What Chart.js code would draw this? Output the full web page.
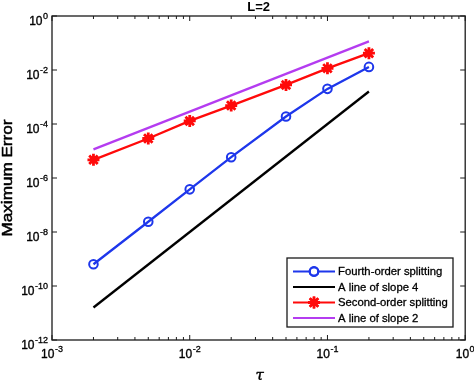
<!DOCTYPE html>
<html>
<head>
<meta charset="utf-8">
<script src="https://cdn.jsdelivr.net/npm/chart.js@4/dist/chart.umd.min.js"></script>
<style>
  html, body { margin: 0; padding: 0; background: #fff; }
  #wrap { width: 474px; height: 382px; }
</style>
</head>
<body>
<div id="wrap"><canvas id="c" width="474" height="382"></canvas></div>
<script>
// ---- data ----
const tau = [0.002, 0.005, 0.01, 0.02, 0.05, 0.1, 0.2];
const errFourth = [6.4e-10, 2.4e-8, 3.8e-7, 5.9e-6, 1.9e-4, 2.0e-3, 1.3e-2];
const errSecond = [4.7e-6, 2.9e-5, 1.3e-4, 4.8e-4, 2.8e-3, 1.15e-2, 4.2e-2];
const refTau = [0.002, 0.2];
const slope4 = [1.6e-11, 1.6e-3];
const slope2 = [1.15e-5, 0.115];
const seriesLabels = ['Fourth-order splitting', 'A line of slope 4', 'Second-order splitting', 'A line of slope 2'];
const xTickExps = [-3, -2, -1, 0];
const yTickExps = [0, -2, -4, -6, -8, -10, -12];
const titleText = 'L=2';
const xLabelText = 'τ';
const yLabelText = 'Maximum Error';

const pts = (xs, ys) => xs.map((x, i) => ({ x: x, y: ys[i] }));

const FONT = '"Liberation Sans", Arial, Helvetica, sans-serif';

function heavyText(ctx, txt, x, y, sw) {
  ctx.fillText(txt, x, y);
  ctx.save();
  ctx.strokeStyle = ctx.fillStyle;
  ctx.lineWidth = sw;
  ctx.lineJoin = 'round';
  ctx.strokeText(txt, x, y);
  ctx.restore();
}

function drawPow(ctx, exp, x, yBase, yExp, align) {
  const base = '10';
  const ex = String(exp);
  ctx.save();
  ctx.fillStyle = '#000';
  ctx.textBaseline = 'middle';
  ctx.font = '12px ' + FONT;
  const wb = ctx.measureText(base).width;
  ctx.font = '9px ' + FONT;
  const we = ctx.measureText(ex).width;
  const total = wb + we + 0.5;
  let left;
  if (align === 'center') left = x - total / 2;
  else left = x - total; // right
  ctx.textAlign = 'left';
  ctx.font = '12px ' + FONT;
  heavyText(ctx, base, left, yBase, 0.35);
  ctx.font = '9px ' + FONT;
  heavyText(ctx, ex, left + wb + 0.5, yExp, 0.3);
  ctx.restore();
}

const decorPlugin = {
  id: 'decor',
  afterDraw(chart) {
    const ctx = chart.ctx;
    const xs = chart.scales.x, ys = chart.scales.y;
    const a = chart.chartArea;
    ctx.save();
    // box
    ctx.strokeStyle = '#1a1a1a';
    ctx.lineWidth = 1.3;
    ctx.strokeRect(a.left, a.top, a.right - a.left, a.bottom - a.top);
    // x ticks
    ctx.lineWidth = 1;
    for (let e = -3; e <= 0; e++) {
      for (let k = 1; k <= 9; k++) {
        const v = k * Math.pow(10, e);
        if (v > 1.0000001) break;
        const px = xs.getPixelForValue(v);
        const len = (k === 1) ? 5 : 3;
        ctx.beginPath();
        ctx.moveTo(px, a.bottom); ctx.lineTo(px, a.bottom - len);
        ctx.moveTo(px, a.top); ctx.lineTo(px, a.top + len);
        ctx.stroke();
      }
    }
    // y ticks
    yTickExps.forEach(e => {
      const py = ys.getPixelForValue(Math.pow(10, e));
      ctx.beginPath();
      ctx.moveTo(a.left, py); ctx.lineTo(a.left + 5, py);
      ctx.moveTo(a.right, py); ctx.lineTo(a.right - 5, py);
      ctx.stroke();
    });
    // tick labels
    xTickExps.forEach(e => {
      const px = xs.getPixelForValue(Math.pow(10, e));
      drawPow(ctx, e, px, a.bottom + 15, a.bottom + 9.5, 'center');
    });
    yTickExps.forEach(e => {
      const py = ys.getPixelForValue(Math.pow(10, e));
      drawPow(ctx, e, a.left - 4, py + 5.5, py + 0.5, 'right');
    });
    // title
    ctx.fillStyle = '#000';
    ctx.textAlign = 'center';
    ctx.textBaseline = 'middle';
    ctx.font = 'bold 13px ' + FONT;
    ctx.fillText(titleText, (a.left + a.right) / 2, 7);
    // x label
    ctx.font = 'italic 15px "DejaVu Serif", "Liberation Serif", serif';
    heavyText(ctx, xLabelText, (a.left + a.right) / 2 + 1, 376, 0.4);
    // y label
    ctx.save();
    ctx.translate(7.5, (a.top + a.bottom) / 2);
    ctx.rotate(-Math.PI / 2);
    ctx.font = '14.5px ' + FONT;
    const w = ctx.measureText(yLabelText).width;
    ctx.scale(117 / w, 1);
    heavyText(ctx, yLabelText, 0, 0, 0.5);
    ctx.restore();

    // legend
    const bx = 287, by = 258, bw = 166, bh = 69;
    ctx.fillStyle = '#fff';
    ctx.fillRect(bx, by, bw, bh);
    ctx.strokeStyle = '#1a1a1a';
    ctx.lineWidth = 1.3;
    ctx.strokeRect(bx, by, bw, bh);
    const rows = [271.5, 287, 302.5, 318];
    chart.data.datasets.forEach((ds, i) => {
      const y = rows[i];
      ctx.strokeStyle = ds.borderColor;
      ctx.lineWidth = 2.2;
      ctx.beginPath();
      ctx.moveTo(293, y); ctx.lineTo(335, y);
      ctx.stroke();
      if (ds.pointStyle && ds.pointRadius > 0) {
        Chart.helpers.drawPoint(ctx, {
          pointStyle: ds.pointStyle,
          radius: ds.pointRadius,
          borderWidth: ds.pointBorderWidth,
          rotation: 0
        }, 314, y);
        ctx.strokeStyle = ds.borderColor;
        ctx.lineWidth = ds.pointBorderWidth;
        ctx.stroke();
      }
      ctx.fillStyle = '#000';
      ctx.textAlign = 'left';
      ctx.textBaseline = 'middle';
      ctx.font = '11.3px ' + FONT;
      heavyText(ctx, ds.label, 338, y + 0.5, 0.3);
    });
    ctx.restore();
  }
};

const blue = 'rgb(30,55,235)';
const red = 'rgb(255,10,10)';
const purple = 'rgb(180,60,240)';

new Chart(document.getElementById('c'), {
  type: 'line',
  data: {
    datasets: [
      { label: seriesLabels[0], data: pts(tau, errFourth), borderColor: blue, backgroundColor: 'rgba(0,0,0,0)',
        borderWidth: 2.3, pointStyle: 'circle', pointRadius: 4.3, pointBorderWidth: 2,
        pointBorderColor: blue, pointBackgroundColor: 'rgba(0,0,0,0)' },
      { label: seriesLabels[1], data: pts(refTau, slope4), borderColor: '#000', borderWidth: 2.3, pointRadius: 0, pointStyle: false },
      { label: seriesLabels[2], data: pts(tau, errSecond), borderColor: red, backgroundColor: red,
        borderWidth: 2.3, pointStyle: 'star', pointRadius: 6, pointBorderWidth: 2.8,
        pointBorderColor: red, pointBackgroundColor: red },
      { label: seriesLabels[3], data: pts(refTau, slope2), borderColor: purple, borderWidth: 2.3, pointRadius: 0, pointStyle: false }
    ]
  },
  options: {
    responsive: false,
    animation: false,
    devicePixelRatio: 1,
    layout: { padding: { left: 52, right: 8, top: 16, bottom: 42 } },
    plugins: { legend: { display: false }, tooltip: { enabled: false }, title: { display: false } },
    elements: { line: { tension: 0 } },
    scales: {
      x: { type: 'logarithmic', min: 1e-3, max: 1, display: false },
      y: { type: 'logarithmic', min: 1e-12, max: 1, display: false }
    }
  },
  plugins: [decorPlugin]
});
</script>
</body>
</html>
